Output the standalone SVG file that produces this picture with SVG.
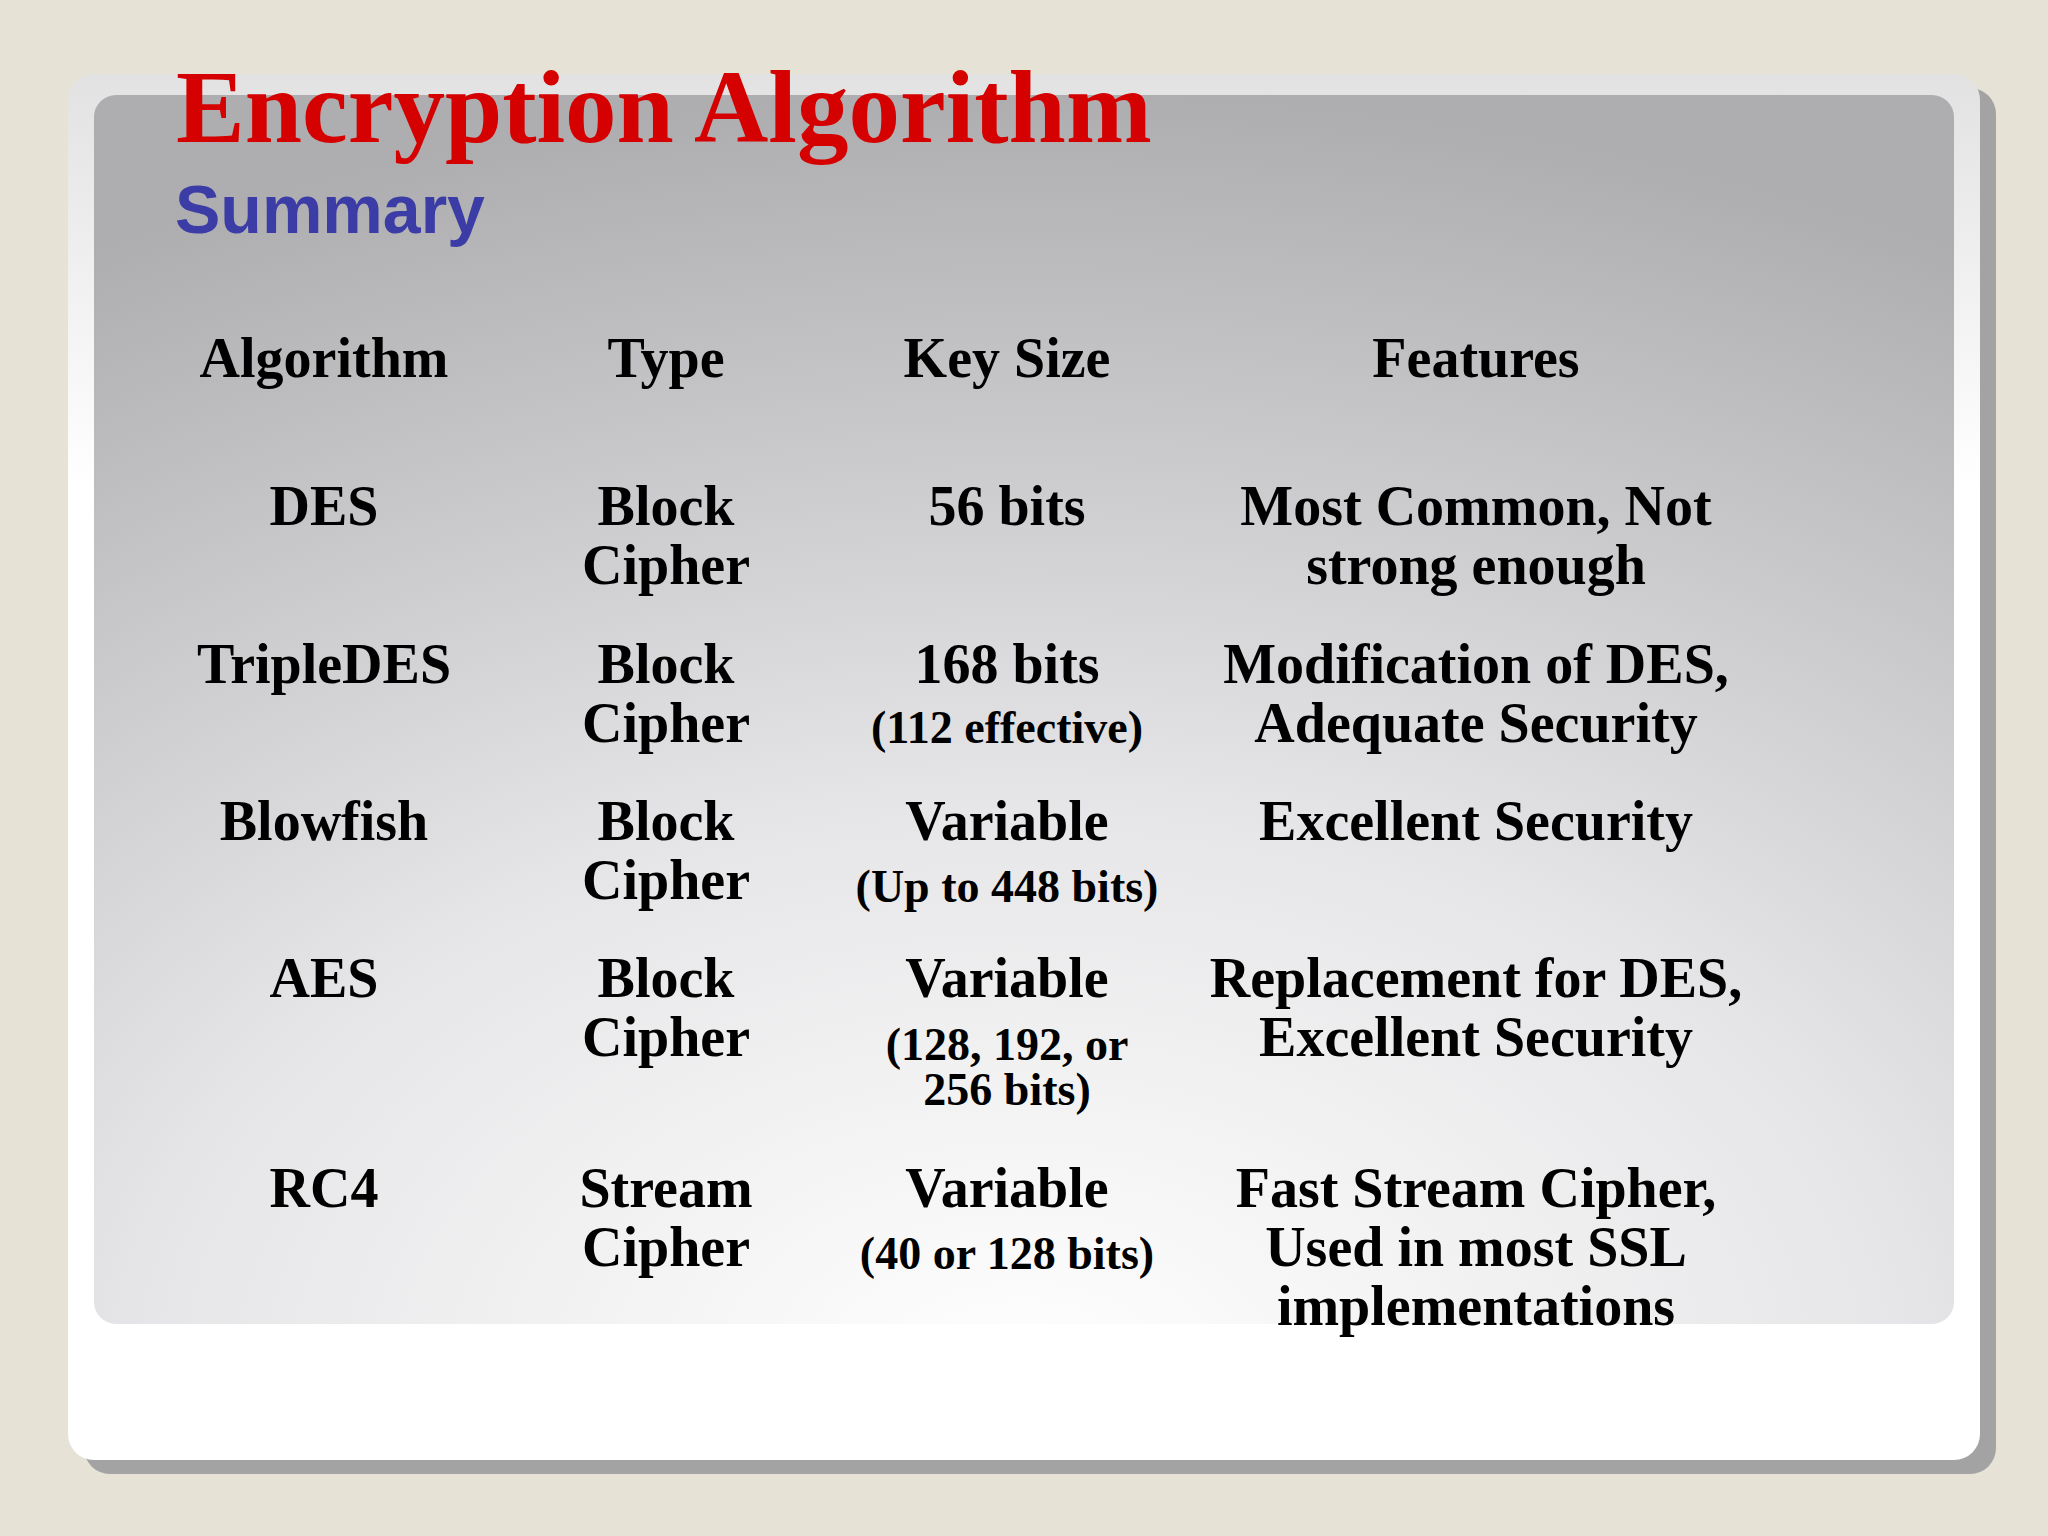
<svg xmlns="http://www.w3.org/2000/svg" width="2048" height="1536" viewBox="0 0 2048 1536">
<defs>
<radialGradient id="g" cx="0.5" cy="1.05" r="1.05" fx="0.5" fy="1.05">
<stop offset="0" stop-color="#ffffff"/>
<stop offset="0.45" stop-color="#e6e6e8"/>
<stop offset="1" stop-color="#aeaeb0"/>
</radialGradient>
<linearGradient id="w" x1="0" y1="0" x2="0" y2="1">
<stop offset="0" stop-color="#e2e2e2"/>
<stop offset="0.3" stop-color="#ffffff"/>
</linearGradient>
<style>
.t{font-family:"Liberation Serif",serif;font-weight:bold;font-size:56px;fill:#000;text-anchor:middle}
.s{font-family:"Liberation Serif",serif;font-weight:bold;font-size:46px;fill:#000;text-anchor:middle}
</style>
</defs>
<rect width="2048" height="1536" fill="#e6e3d6"/>
<rect x="84" y="88" width="1912" height="1386" rx="26" fill="#a3a3a3"/>
<rect x="68" y="74" width="1912" height="1386" rx="26" fill="url(#w)"/>
<rect x="94" y="95" width="1860" height="1229" rx="22" fill="url(#g)"/>
<text x="176" y="142" font-family="Liberation Serif,serif" font-weight="bold" font-size="103" fill="#d50000">Encryption Algorithm</text>
<text x="175" y="233" font-family="Liberation Sans,sans-serif" font-weight="bold" font-size="68" fill="#3c3ca6">Summary</text>
<g>
<text class="t" x="324" y="377">Algorithm</text>
<text class="t" x="666" y="377">Type</text>
<text class="t" x="1007" y="377">Key Size</text>
<text class="t" x="1476" y="377">Features</text>

<text class="t" x="324" y="525">DES</text>
<text class="t" x="666" y="525">Block</text>
<text class="t" x="666" y="584">Cipher</text>
<text class="t" x="1007" y="525">56 bits</text>
<text class="t" x="1476" y="525">Most Common, Not</text>
<text class="t" x="1476" y="584">strong enough</text>

<text class="t" x="324" y="683">TripleDES</text>
<text class="t" x="666" y="683">Block</text>
<text class="t" x="666" y="742">Cipher</text>
<text class="t" x="1007" y="683">168 bits</text>
<text class="s" x="1007" y="743">(112 effective)</text>
<text class="t" x="1476" y="683">Modification of DES,</text>
<text class="t" x="1476" y="742">Adequate Security</text>

<text class="t" x="324" y="840">Blowfish</text>
<text class="t" x="666" y="840">Block</text>
<text class="t" x="666" y="899">Cipher</text>
<text class="t" x="1007" y="840">Variable</text>
<text class="s" x="1007" y="902">(Up to 448 bits)</text>
<text class="t" x="1476" y="840">Excellent Security</text>

<text class="t" x="324" y="997">AES</text>
<text class="t" x="666" y="997">Block</text>
<text class="t" x="666" y="1056">Cipher</text>
<text class="t" x="1007" y="997">Variable</text>
<text class="s" x="1007" y="1060">(128, 192, or</text>
<text class="s" x="1007" y="1105">256 bits)</text>
<text class="t" x="1476" y="997">Replacement for DES,</text>
<text class="t" x="1476" y="1056">Excellent Security</text>

<text class="t" x="324" y="1207">RC4</text>
<text class="t" x="666" y="1207">Stream</text>
<text class="t" x="666" y="1266">Cipher</text>
<text class="t" x="1007" y="1207">Variable</text>
<text class="s" x="1007" y="1269">(40 or 128 bits)</text>
<text class="t" x="1476" y="1207">Fast Stream Cipher,</text>
<text class="t" x="1476" y="1266">Used in most SSL</text>
<text class="t" x="1476" y="1325">implementations</text>
</g>
</svg>
